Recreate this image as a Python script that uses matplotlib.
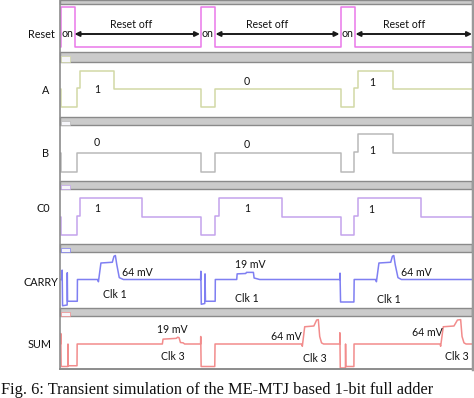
import matplotlib
matplotlib.use("Agg")
import matplotlib.pyplot as plt
from matplotlib.patches import Rectangle
import numpy as np

plt.rcParams['font.family'] = ['Lato', 'DejaVu Sans']

# ---------------- data ----------------
signal_names = ["Reset", "A", "B", "C0", "CARRY", "SUM"]

# digital signals: change times (time units) and levels after each change
reset_t = [0.0, 0.1, 1.1, 10.2, 11.2, 20.25, 21.25]
reset_v = [0, 1, 0, 1, 0, 1, 0]

a_t = [0.0, 0.1, 1.26, 1.47, 3.92, 10.18, 11.19, 20.23, 21.19, 21.47, 24.0]
a_v = [0.5, 0, 0.52, 1, 0.5, 0, 0.5, 0, 0.52, 1, 0.5]

b_t = [0.0, 0.1, 1.26, 10.18, 11.19, 20.23, 21.19, 21.47, 24.0]
b_v = [0.5, 0, 0.5, 0, 0.5, 0, 0.52, 1, 0.5]

c0_t = [0.0, 0.1, 1.26, 1.47, 5.94, 10.18, 11.19, 11.47, 16.0, 20.23, 21.19, 21.47, 26.0]
c0_v = [0.5, 0, 0.52, 1, 0.5, 0, 0.52, 1, 0.5, 0, 0.52, 1, 0.5]

# analog outputs (mV relative to baseline)
carry_t = [0.0, 0.18, 0.19, 0.22, 0.55, 0.56, 0.58, 1.28, 1.29,
           2.75, 2.8, 2.98, 3.8, 3.92, 4.02, 4.12, 4.3, 4.6,
           10.15, 10.17, 10.2, 10.45, 10.47, 10.5, 11.2, 11.21,
           12.75, 12.78, 13.4, 13.45, 13.95, 14.0, 14.2, 14.4,
           20.17, 20.18, 20.22, 21.18, 21.2,
           22.75, 22.8, 22.98, 23.83, 23.95, 24.05, 24.15, 24.35, 24.6, 29.8]
carry_v = [0, 0, 25, -70, -68, 18, -58, -58, 0,
           0, -6, 44, 46, 62, 64, 40, 5, 0,
           0, 22, -66, -64, 15, -58, -58, 0,
           0, 15, 16, 19, 19, 4, 2, 0,
           0, 17, -60, -60, 0,
           0, -6, 44, 46, 62, 64, 40, 5, 0, 0]

sum_t = [0.0, 0.08, 0.09, 0.12, 0.6, 0.61, 0.63, 1.26, 1.27,
         7.4, 7.45, 8.4, 8.5, 8.6, 8.7, 8.9, 9.0,
         10.15, 10.16, 10.19, 11.17, 11.19,
         17.42, 17.47, 17.64, 18.3, 18.5, 18.62, 18.72, 18.85, 19.0,
         20.16, 20.17, 20.2, 20.57, 20.58, 20.6, 21.18, 21.19,
         27.38, 27.42, 27.61, 28.38, 28.63, 28.86, 28.96, 29.1, 29.25, 29.8]
sum_v = [0, 0, 28, -60, -60, 0, -58, -58, 0,
         0, 13, 15, 18, 17, 4, 3, 0,
         0, 20, -60, -60, 0,
         0, -6, 46, 48, 64, 65, 20, 3, 0,
         0, 30, -64, -64, 0, -60, -60, 0,
         0, -6, 46, 48, 64, 65, 20, 3, 0, 0]

reset_notes = ["on", "on", "on"]
off_note = "Reset off"
a_notes = ["1", "0", "1"]
b_notes = ["0", "0", "1"]
c0_notes = ["1", "1", "1"]
carry_notes = ["64 mV", "19 mV", "64 mV"]
carry_clk = ["Clk 1", "Clk 1", "Clk 1"]
sum_notes = ["19 mV", "64 mV", "64 mV"]
sum_clk = ["Clk 3", "Clk 3", "Clk 3"]
caption = "Fig. 6: Transient simulation of the ME-MTJ based 1-bit full adder"

# ---------------- layout ----------------
W, H = 474, 398
fig = plt.figure(figsize=(W / 100, H / 100), dpi=100)

def fx(x):
    return x / W

def fy(y):
    return 1 - y / H

X0, X1 = 59.5, 472.0
PX_PER_T = 13.9
T_MAX = (X1 - X0) / PX_PER_T

colors = ["#ea78ea", "#d2d8a6", "#b9b9b9", "#c3a3ec", "#7f7ff2", "#f28c8c"]

# panel: top px, bottom px, (value, px), (value, px)
panels = [
    (4, 52, (1, 7), (0, 46.5)),
    (61.5, 117, (1, 71), (0, 107)),
    (125, 181, (1, 134), (0, 171.5)),
    (189, 244, (1, 198), (0, 235)),
    (252, 308, (64, 255.5), (0, 279.5)),
    (316, 368.5, (64, 320), (0, 344)),
]
bars = [(0, 4), (52, 61.5), (117, 125), (181, 189), (244, 252), (308, 316)]

series = [
    ("step", reset_t, reset_v),
    ("step", a_t, a_v),
    ("step", b_t, b_v),
    ("step", c0_t, c0_v),
    ("line", carry_t, carry_v),
    ("line", sum_t, sum_v),
]

axes = []
for (T, B, (va, pa), (vb, pb)), (kind, t, v), col in zip(panels, series, colors):
    ax = fig.add_axes([fx(X0), fy(B), (X1 - X0) / W, (B - T) / H])
    s = (pb - pa) / (va - vb)
    ax.set_ylim(vb - (B - pb) / s, va + (pa - T) / s)
    ax.set_xlim(0, T_MAX)
    if kind == "step":
        ax.step(list(t) + [T_MAX], list(v) + [v[-1]], where="post", color=col, lw=1.1)
    else:
        ax.plot(t, v, color=col, lw=1.1)
    ax.axis("off")
    ax.patch.set_alpha(0)
    axes.append(ax)

# gray separator bars
for (bt, bb), col in zip(bars, colors):
    fig.add_artist(Rectangle((fx(X0), fy(bb)), (X1 - X0) / W, (bb - bt) / H,
                             transform=fig.transFigure, facecolor="#cbcbcb",
                             edgecolor="#8a8a8a", lw=1.0))
    if bb - bt > 6:
        fig.add_artist(Rectangle((fx(X0 + 1), fy(bb)), 9 / W, (bb - bt) * 0.55 / H,
                                 transform=fig.transFigure, facecolor="#f6f6fa",
                                 edgecolor=col, lw=0.5))

# frame
fig.add_artist(plt.Line2D([fx(X0), fx(X0)], [fy(0), fy(368.5)], transform=fig.transFigure,
                          color="#8c8c8c", lw=1.2))
fig.add_artist(plt.Line2D([fx(X0), fx(X1)], [fy(368.5), fy(368.5)], transform=fig.transFigure,
                          color="#8c8c8c", lw=1.4))
fig.add_artist(plt.Line2D([fx(472.5), fx(472.5)], [fy(0), fy(369)], transform=fig.transFigure,
                          color="#9a9a9a", lw=2.5))

# signal names
name_pos = [(41.5, 34), (45.5, 90), (45.5, 153), (43.5, 209), (41, 283), (40, 344)]
for name, (x, y) in zip(signal_names, name_pos):
    fig.text(fx(x), fy(y), name, ha="center", va="center", fontsize=7.8, color="#111")

def note(x, y, s, size=7.6):
    fig.text(fx(x), fy(y), s, ha="center", va="center", fontsize=size, color="#111")

for s, x in zip(reset_notes, [67.5, 207.5, 347]):
    note(x, 33.5, s)
for (xa, xb, xc) in [(74.5, 200, 131.5), (215.5, 339.5, 267), (355.5, 472, 404.5)]:
    fig.add_artist(matplotlib.patches.FancyArrowPatch(
        (fx(xa), fy(34)), (fx(xb), fy(34)), transform=fig.transFigure,
        arrowstyle="<|-|>", mutation_scale=7, lw=1.4, color="#1a1a1a",
        shrinkA=0, shrinkB=0))
    note(xc, 24.5, off_note)

for s, (x, y) in zip(a_notes, [(97, 89.5), (247, 81.5), (372, 83)]):
    note(x, y, s)
for s, (x, y) in zip(b_notes, [(97, 142), (247, 145), (372, 150)]):
    note(x, y, s)
for s, (x, y) in zip(c0_notes, [(97, 209), (247, 209), (371, 210)]):
    note(x, y, s)
for s, (x, y) in zip(carry_notes, [(137, 272), (250, 264), (416.5, 272)]):
    note(x, y, s)
for s, (x, y) in zip(carry_clk, [(115, 295), (246.5, 299), (389, 299.5)]):
    note(x, y, s)
for s, (x, y) in zip(sum_notes, [(172, 329.5), (286, 336), (427.5, 332)]):
    note(x, y, s)
for s, (x, y) in zip(sum_clk, [(172.5, 356), (315, 358), (456.5, 357)]):
    note(x, y, s)

fig.text(fx(1), fy(394.5), caption, ha="left", va="baseline",
         family=["Liberation Serif", "DejaVu Serif"], fontsize=11.8, color="#111")

fig.savefig("out.png", dpi=100)
